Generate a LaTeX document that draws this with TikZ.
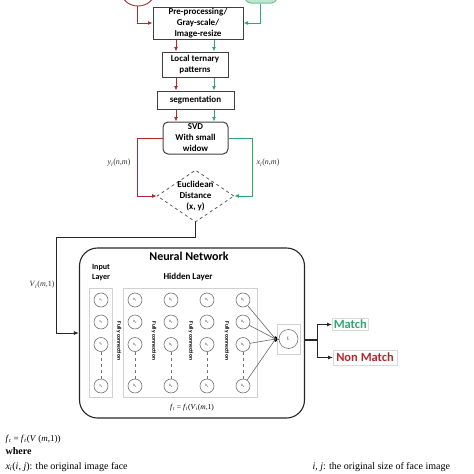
\documentclass[tikz,border=0pt]{standalone}
\usepackage{fontspec}
\setmainfont{Liberation Serif}
\setsansfont{Carlito}
\usetikzlibrary{shapes.geometric,arrows.meta,calc}
\definecolor{cred}{HTML}{B3282E}
\definecolor{cgreen}{HTML}{2EA86B}
\newcommand\iv[1]{\textit{#1}}
\newcommand\sbi[1]{\textsubscript{\textit{#1}}}
\begin{document}
\begin{tikzpicture}[x=1pt,y=-1pt,
  box/.style={draw=black!75, line width=1pt, font=\sffamily\bfseries\fontsize{9}{11}\selectfont, align=center, inner sep=0pt},
  redarr/.style={draw=cred, line width=1pt, -{Latex[length=4.5pt,width=4pt]}},
  grnarr/.style={draw=cgreen, line width=1pt, -{Latex[length=4.5pt,width=4pt]}},
  blkarr/.style={draw=black!85, line width=1pt, -{Latex[length=5pt,width=4pt]}},
  neuron/.style={circle, draw=black!55, line width=0.6pt, minimum width=14pt, minimum height=13.5pt, inner sep=0pt, font=\fontsize{3.5}{4}\selectfont},
  graybox/.style={draw=black!18, line width=0.6pt},
  fc/.style={rotate=-90, font=\sffamily\bfseries\fontsize{5.6}{6}\selectfont},
  lbl/.style={font=\fontsize{8}{9}\selectfont, text=black!80},
  outtxt/.style={draw=black!15, line width=0.5pt, font=\sffamily\bfseries\fontsize{12.5}{13}\selectfont, inner sep=1.5pt}
]
\useasboundingbox (0,0) rectangle (474,474);

% top partial shapes
\node[ellipse, draw=cred, line width=0.9pt, minimum width=34pt, minimum height=30pt] (src) at (138,-9) {};
\node[draw=cgreen!70, fill=cgreen!30, rounded corners=6pt, line width=1pt, minimum width=32pt, minimum height=24pt] (db) at (261,-9) {};

% boxes
\node[box, minimum width=90pt, minimum height=32pt] (pre) at (198,23) {Pre-processing/\\Gray-scale/\\Image-resize};
\node[box, minimum width=66pt, minimum height=25pt] (ltp) at (195,64.5) {Local ternary\\patterns};
\node[box, minimum width=77pt, minimum height=18pt] (seg) at (195.5,100) {segmentation};
\node[box, rounded corners=5pt, minimum width=65pt, minimum height=32pt] (svd) at (195.5,138) {SVD\\With small\\widow};
\node[diamond, draw=black!65, dashed, line width=0.8pt, minimum width=77pt, minimum height=52pt, inner sep=0pt] (ed) at (195.5,196) {};
\node[box, draw=none] (edt) at (ed.center) {Euclidean\\Distance\\(x, y)};

\coordinate (xr) at (176,0);
\coordinate (xg) at (214,0);
\coordinate (cr) at (137,0);
\coordinate (cg) at (252,0);
\coordinate (cgt) at (260,0);

% top connectors
\draw[redarr] (src.south -| cr) |- (pre.west);
\draw[grnarr] (db.south -| cgt) |- (pre.east);
\draw[redarr] (pre.south -| xr) -- (ltp.north -| xr);
\draw[grnarr] (pre.south -| xg) -- (ltp.north -| xg);
\draw[redarr] (ltp.south -| xr) -- (seg.north -| xr);
\draw[grnarr] (ltp.south -| xg) -- (seg.north -| xg);
\draw[redarr] (seg.south -| xr) -- (svd.north -| xr);
\draw[grnarr] (seg.south -| xg) -- (svd.north -| xg);
\draw[redarr] (svd.west) -| (ed.west -| cr) -- (ed.west);
\draw[grnarr] (svd.east) -| (ed.east -| cg) -- (ed.east);

\node[lbl] (ylab) at (119,163) {\iv{y}\sbi{i}(\iv{n,m})};
\node[lbl] (xlab) at (268,163) {\iv{x}\sbi{i}(\iv{n,m})};

% neural network box
\node[draw=black!85, line width=1.1pt, rounded corners=18pt, minimum width=225pt, minimum height=170pt, inner sep=0pt] (nn) at (192,333) {};
\node[font=\sffamily\bfseries\fontsize{12}{13}\selectfont] (nntitle) at (189,256) {Neural Network};
\node[font=\sffamily\bfseries\fontsize{8}{10}\selectfont, align=center] (inl) at (101,273) {Input\\Layer};
\node[font=\sffamily\bfseries\fontsize{9}{10}\selectfont] (hidl) at (188,277) {Hidden Layer};

\coordinate (cv) at (56,237);
\draw[blkarr] (ed.south) |- (cv) |- (nn.west);
\node[lbl] (vlab) at (42,285) {\iv{V}\sbi{i}(\iv{m},1)};

% layer boxes
\draw[graybox] (89,288) rectangle (112,397);
\draw[graybox] (123,288) rectangle (257,397);
\draw[graybox] (277,324) rectangle (300,354);

% input neurons
\foreach \r/\yy/\s in {1/300/1,2/322/2,3/344.5/3,4/386/n} {
  \node[neuron] (x\r) at (101,\yy) {\iv{x}\sbi{\s}};
}
\draw[black!55, dashed, line width=0.6pt] (x3) -- (x4);
% hidden neurons
\foreach \c/\xx in {1/135,2/171,3/207,4/243} {
  \foreach \r/\yy/\s in {1/300/1,2/322/2,3/344.5/3,4/386/n} {
    \node[neuron] (h\c\r) at (\xx,\yy) {\iv{h}\sbi{\s}};
  }
  \draw[black!55, dashed, line width=0.6pt] (h\c3) -- (h\c4);
}
\foreach \xx/\n in {119/a,154/b,191/c,227/d} {
  \node[fc] (fc\n) at (\xx,341) {Fully connection};
}

% output neuron
\node[neuron, minimum width=19pt, minimum height=18pt, font=\fontsize{4}{4}\selectfont] (ft) at (288.5,339) {\iv{f}\sbi{t}};
\node[ellipse, fill=black, minimum width=3.5pt, minimum height=5.5pt, inner sep=0pt] (dot) at (275.5,339) {};
\foreach \r in {1,2,3,4} {\draw[black!60, line width=0.6pt] (h4\r) -- (dot.center);}
\draw[black!60, line width=0.6pt] (dot) -- (ft);

\node[font=\fontsize{7.5}{8}\selectfont] (form) at (192,408) {\iv{f}\sbi{t} = \iv{f}\sbi{t}(\iv{V}\sbi{i}(\iv{m},1)};

% outputs
\coordinate (br) at (317,340);
\node[outtxt, text=cgreen, anchor=west] (match) at (332,324.5) {Match};
\node[outtxt, text=cred, anchor=west, inner xsep=3pt, inner ysep=3pt] (nonm) at (333,357.5) {Non Match};
\draw[black!85, line width=1.1pt] (nn.east |- br) -- (br);
\draw[blkarr] (br) |- (match.west);
\draw[blkarr] (br) |- (nonm.west);

% bottom text
\node[anchor=west, font=\fontsize{9}{10}\selectfont] (t1) at (2,439) {\iv{f}\sbi{t} = \iv{f}\sbi{t}(\iv{V}\ (\iv{m},1))};
\node[anchor=west, font=\bfseries\fontsize{10}{11}\selectfont] (t2) at (2,451) {where};
\node[anchor=west, font=\fontsize{10}{11}\selectfont] (t3) at (2,467) {\iv{x}\sbi{i}(\iv{i}, \iv{j}): the original image face};
\node[anchor=west, font=\fontsize{10}{11}\selectfont] (t4) at (309,467) {\iv{i}, \iv{j}: the original size of face image};
\end{tikzpicture}
\end{document}
